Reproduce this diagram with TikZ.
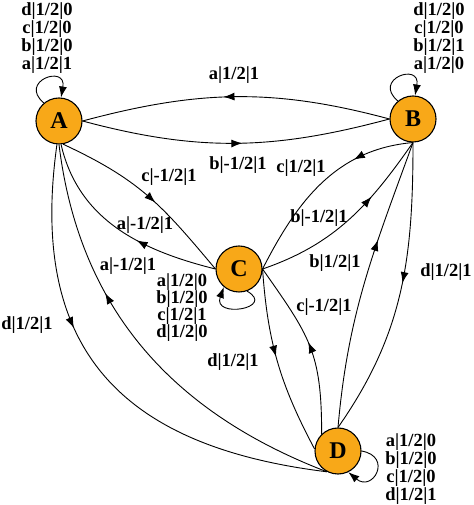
\documentclass[tikz,border=0pt]{standalone}
\usepackage{fontspec}
\setmainfont{Liberation Serif}
\usepackage{tikz}
\usetikzlibrary{arrows.meta,decorations.markings}
\definecolor{stateorange}{RGB}{248,168,24}
\definecolor{inkblack}{RGB}{0,0,0}
\tikzset{arrowat/.style={postaction={decorate}, decoration={markings, mark=at position #1 with {\arrow{Latex[length=11pt, width=8pt]}}}}}

\begin{document}
\begin{tikzpicture}[x=1pt, y=1pt]
    \tikzstyle{state} = [circle, draw=inkblack, line width=1.1pt, fill=stateorange, minimum size=46pt, inner sep=0pt, font=\fontsize{24}{24}\selectfont\bfseries]
    \tikzstyle{trans} = [line width=0.9pt, inkblack]
    \tikzstyle{selfloop} = [trans, -{Latex[length=11pt, width=8pt]}]
    \tikzstyle{lbl} = [font=\fontsize{18.5}{18}\selectfont\bfseries, inner sep=0pt, align=center]

    \useasboundingbox (0,0) rectangle (473,505);

    \node[state] (A) at (59,384) {A};
    \node[state] (B) at (413,386) {B};
    \node[state] (C) at (239,236) {C};
    \node[state] (D) at (338,54) {D};

    % transitions
    \draw[trans, arrowat=0.54] (B.180) to[out=165, in=15] (A.0);
    \draw[trans, arrowat=0.52] (A.0) to[out=-15, in=-165] (B.180);
    \draw[trans, arrowat=0.55] (A.-80) to[out=-25, in=130, looseness=1.1] (C.180);
    \draw[trans, arrowat=0.4] (C.180) to[out=166, in=-77] (A.-85);
    \draw[trans, arrowat=0.3] (B.-90) to[out=185, in=63] (C.0);
    \draw[trans, arrowat=0.66] (C.0) to[out=19, in=-125] (B.-90);
    \draw[trans, arrowat=0.65] (D.90) to[out=85, in=-110] (B.-90);
    \draw[trans, arrowat=0.47] (B.-90) to[out=-90, in=55] (D.90);
    \draw[trans, arrowat=0.47] (C.0) to[out=-86, in=118] (D.175);
    \draw[trans, arrowat=0.52] (D.134) to[out=90, in=-55, looseness=1.2] (C.0);
    \draw[trans, arrowat=0.65] (D.-118) to[out=159, in=-83] (A.-90);
    \draw[trans, arrowat=0.38] (A.-95) to[out=-98, in=173, looseness=1.25] (D.-118);

    % self loops
    \draw[selfloop] (A.130) to[out=140, in=80, distance=34pt] (A.85);
    \draw[selfloop] (B.130) to[out=140, in=80, distance=34pt] (B.85);
    \draw[selfloop] (C.-70) to[out=-30, in=-110, distance=34pt] (C.-130);
    \draw[selfloop] (D.0) to[out=-10, in=-40, distance=32pt] (D.-64);

    % outputs of the self loops
    \node[lbl] (outA) at (47,467) {d|1/2|0\\c|1/2|0\\b|1/2|0\\a|1/2|1};
    \node[lbl] (outB) at (439,467) {d|1/2|0\\c|1/2|0\\b|1/2|1\\a|1/2|0};
    \node[lbl, font=\fontsize{18.5}{17}\selectfont\bfseries] (outC) at (182,197) {a|1/2|0\\b|1/2|0\\c|1/2|1\\d|1/2|0};
    \node[lbl] (outD) at (411,36) {a|1/2|0\\b|1/2|0\\c|1/2|0\\d|1/2|1};

    % transition labels
    \node[lbl] (tBA) at (234,430) {a|1/2|1};
    \node[lbl] (tAB) at (238,340) {b|-1/2|1};
    \node[lbl] (tAC) at (169,328) {c|-1/2|1};
    \node[lbl] (tCA) at (145,280) {a|-1/2|1};
    \node[lbl] (tDA) at (128,239) {a|-1/2|1};
    \node[lbl] (tAD) at (27,180) {d|1/2|1};
    \node[lbl] (tBC) at (301,337) {c|1/2|1};
    \node[lbl] (tCB) at (319,287) {b|-1/2|1};
    \node[lbl] (tDB) at (335,242) {b|1/2|1};
    \node[lbl] (tBD) at (446,233) {d|1/2|1};
    \node[lbl] (tDC) at (324,198) {c|-1/2|1};
    \node[lbl] (tCD) at (233,143) {d|1/2|1};
\end{tikzpicture}
\end{document}
